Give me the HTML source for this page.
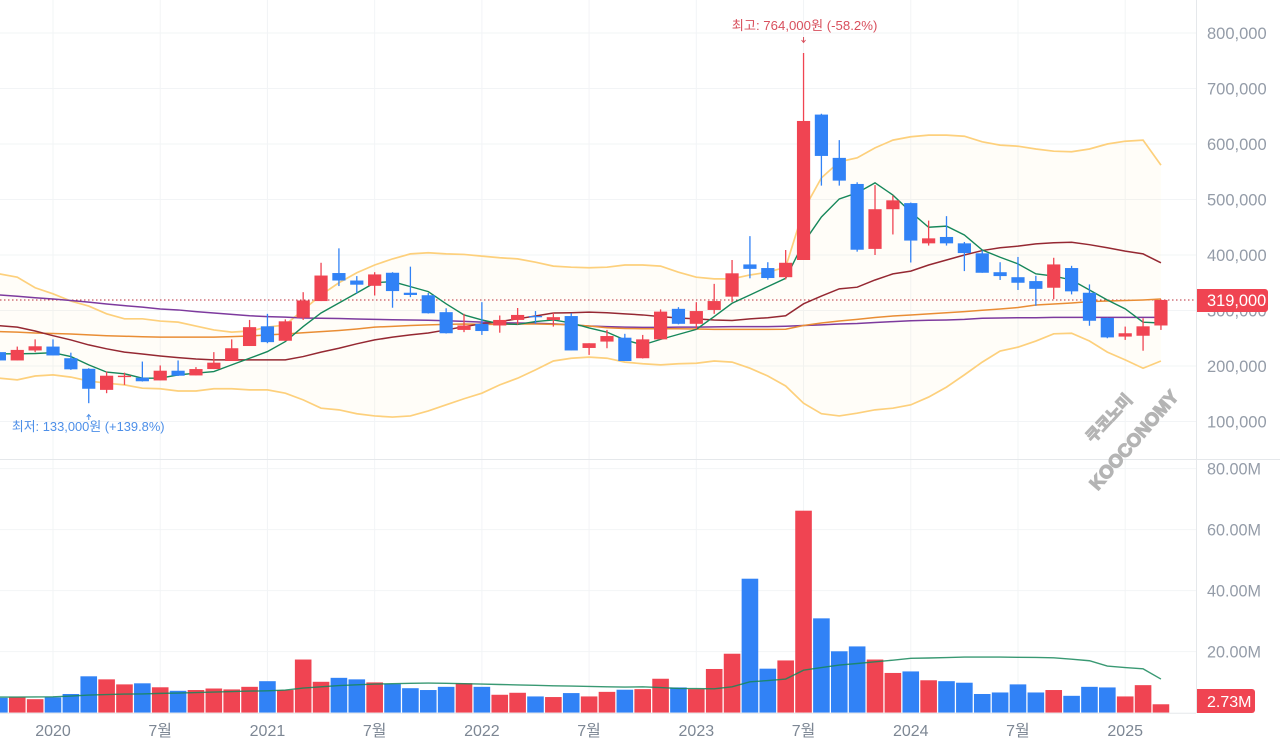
<!DOCTYPE html>
<html lang="ko">
<head>
<meta charset="utf-8">
<title>월봉 주가 차트</title>
<style>
html,body{margin:0;padding:0;background:#fff;width:1280px;height:742px;overflow:hidden}
svg{display:block;position:absolute;left:0;top:0}
text{font-family:"Liberation Sans","Noto Sans CJK KR",sans-serif}
</style>
</head>
<body>
<svg id="chart" width="1280" height="742" viewBox="0 0 1280 742" xmlns="http://www.w3.org/2000/svg"></svg>
<script>
/* Monthly categories, Oct 2019 to Mar 2025 */
const categories = ["2019-10","2019-11","2019-12","2020-01","2020-02","2020-03","2020-04","2020-05","2020-06","2020-07","2020-08","2020-09","2020-10","2020-11","2020-12","2021-01","2021-02","2021-03","2021-04","2021-05","2021-06","2021-07","2021-08","2021-09","2021-10","2021-11","2021-12","2022-01","2022-02","2022-03","2022-04","2022-05","2022-06","2022-07","2022-08","2022-09","2022-10","2022-11","2022-12","2023-01","2023-02","2023-03","2023-04","2023-05","2023-06","2023-07","2023-08","2023-09","2023-10","2023-11","2023-12","2024-01","2024-02","2024-03","2024-04","2024-05","2024-06","2024-07","2024-08","2024-09","2024-10","2024-11","2024-12","2025-01","2025-02","2025-03"];
/* Prices in thousand won */
const opens = [225,210,228,235,214,195,157,180,179,174,191.5,183,194.5,209,236,271.5,245.5,287,317,367.5,354,344.5,368,332,327.5,297,265,276,273,283,290,283,290,232.5,244,251,214,248,303,276,301,325,383,376.5,360,391,653,575,528,411,482.5,493.5,421,432.5,421,403,369,360,353,341,376.5,332,286.5,253,254.5,273];
const highs = [226,235,248,248,224,196,190,188,208,201,210,198,225,248,283,294,284,333,386,412,362,369,369,379,331.5,304,294,315,291,304.5,299,296,295,241,265,258,256,302,306,315,348,391,434,387,409,764,654.5,607,531,526,507,494.5,462,470,423.5,408,387,396.5,362.5,395,380.5,347,287,271,286,320];
const lows = [209,210,225,219,193,133,151,166,172,174,182,183,194.5,209,236,241,245,283,317,344,331,327,305,324,294.5,258.5,261,256,260,274.5,276,271,228,220,232,209,213.5,248,275,266,294,315,358,355.5,356,391,525,525,406,400,437,386.5,417,417,371,368,355,337,308.5,320.5,329,272.5,250,247,227.5,265];
const closes = [210,229,235.5,219,194,159,182.5,182.5,172.5,191.5,182.5,194.5,206,232,270,243,280.5,318,363,354,346.5,365,335,328,295,259,273,263,283,292,288,288,228,241,254,209,248,298,276,299,317,367,375,358.5,386,641.5,578.5,534,409.5,482.5,498.5,426,430,421,403.5,368,362,350,339,383,334.5,281.5,251.5,259,271.5,319];
/* Indicator series in thousand won */
const bollingerUpper = [366,360,341,330,317,308,294,285,285,281,279,272,265,261,263,270,274,301,328,350,368,382,393,402,404,402,401,398,395,393,387,380,378,377,378,382,382,380,369,360,357,357,364,369,378,481,539,568,575,593,607,613,616,616,614,604,598,596,591,587,586,591,600,605,607,562];
const bollingerLower = [178,175,182,184,180,173,169,166,160,159,155,155,159,159,157,157,151,139,124,121,114,110,108,110,119,130,141,151,166,178,193,209,214,216,214,207,204,202,204,205,209,207,196,182,164,133,114,110,115,121,124,130,144,162,184,207,227,234,245,258,259,245,225,211,196,209];
const ma5 = [222,222,222.5,224,217,202,189,186,178,178,184,187,190,202,214,226,244,271,295.5,313.5,331.5,350,352,343,334,312,292,283,276,275,280,283,277.5,268.5,261,247,238,248,257,266,289,313,328,343,358,422,468.5,501,512,530,508,477.5,450,452,436,409,396,384,366,362,355,337,319,303,279,277.5];
const ma20 = [272.6,270,263,254.6,247,238,231,225,221.6,218,215,212.6,211,211,211,211,211,217,225,232,240,247,252,256,259.5,265,271,276,280,285,290,295.5,296,297,296,294,292,289,286.5,285,283,282,285,287,290.6,312,326,339,342,355,366,371,382,391,400,408,413,416,420,422,423,418.6,413,407,402,386];
const ma60 = [262,261,259.5,258.6,257.7,256,254.6,253.7,252.6,252,252,252,252,253,254,256,257.7,260,262,264,266.7,270,271.5,273,274,275,275.7,275,275,275.7,275.7,275,274.4,272,269,267.6,267,267,267,266.7,266,266,266,266,266.3,273,277.5,281,284,287.4,290,292,294,296,298,300.5,302.7,305.4,310,311.7,313.5,316,317,318,319,320.7];
const ma120 = [328,325.6,323,320.7,318,315,311.7,308.7,306,302.7,301,298,295.5,293,290.6,289,288,286.5,286,285.6,284.7,284,283.4,283,282.5,281.6,280.5,279,278,277.5,277,276,274,272,271,270,269.7,269.7,270,270,270.6,271,271,271,271.7,273,274,275.7,276.6,278.4,280,281.6,282.5,283,284,286,286.5,287,287,287.6,287.7,287.7,287.7,287.7,287.7,287.7];
/* Volume in millions of shares */
const volumes = [4.85,5.0,4.4,5.0,6.1,11.9,10.9,9.25,9.6,8.3,7.15,7.4,7.9,7.6,8.45,10.3,7.4,17.4,10.1,11.4,10.9,9.9,9.35,8.0,7.4,8.45,9.6,8.45,5.85,6.5,5.3,5.1,6.4,5.3,6.8,7.5,7.7,11.1,8.25,7.7,14.3,19.3,43.9,14.4,17.1,66.2,30.9,20.1,21.7,17.4,13,13.5,10.6,10.3,9.8,6.1,6.6,9.25,6.6,7.4,5.5,8.45,8.25,5.3,9.0,2.73];
const volumeMa = [5.08,5.08,5.15,5.18,5.41,5.74,5.9,6.07,6.13,6.3,6.39,6.56,6.72,6.89,7.05,7.15,7.38,8.03,8.46,8.85,9.11,9.34,9.48,9.61,9.67,9.61,9.48,9.34,9.21,9.08,8.95,8.79,8.69,8.59,8.46,8.36,8.46,8.2,7.93,7.87,7.8,8.46,10.1,10.5,11,13.9,14.75,15.6,16.1,16.65,17.2,17.8,17.9,18.05,18.2,18.2,18.2,18.13,18.1,17.97,17.5,17,15.25,14.75,14.36,11];
/* Axis ticks */
const priceTicks = [100,200,300,400,500,600,700,800];
const priceTickLabels = ["100,000","200,000","300,000","400,000","500,000","600,000","700,000","800,000"];
const volumeTicks = [20,40,60,80];
const volumeTickLabels = ["20.00M","40.00M","60.00M","80.00M"];
const timeTicks = ["2020-01","2020-07","2021-01","2021-07","2022-01","2022-07","2023-01","2023-07","2024-01","2024-07","2025-01"];
const timeTickLabels = ["2020","7월","2021","7월","2022","7월","2023","7월","2024","7월","2025"];

/* Axis functions */
function xOf(i){return -0.61 + i*17.87;}
function yPrice(k){return 366 - (k-200)*0.555;}
function yVol(m){return 712.6 - m*3.05;}

const svg = document.getElementById('chart');
const NS = 'http://www.w3.org/2000/svg';
function mk(tag, attrs, parent){
  const el = document.createElementNS(NS, tag);
  for(const k in attrs) el.setAttribute(k, attrs[k]);
  (parent||svg).appendChild(el);
  return el;
}
function pts(arr, yf){return arr.map((v,i)=>xOf(i).toFixed(2)+','+yf(v).toFixed(2)).join(' ');}
const RED='#f04452', BLUE='#3182f6', GRID='#f2f4f6', AXIS='#e5e8eb', TXT='#949ca8';

/* Horizontal and vertical grid */
priceTicks.forEach(t=>{
  const el = mk('line',{x1:0,x2:1196,y1:yPrice(t),y2:yPrice(t),stroke:GRID,'stroke-width':1});
  
  
});
volumeTicks.forEach(t=>{
  const el = mk('line',{x1:0,x2:1196,y1:yVol(t),y2:yVol(t),stroke:GRID,'stroke-width':1});
  
  
});
timeTicks.forEach(t=>{
  const x = xOf(categories.indexOf(t));
  const el = mk('line',{x1:x,x2:x,y1:0,y2:713,stroke:GRID,'stroke-width':1});
  
  
});

/* Bollinger band fill */
const bandPts = pts(bollingerUpper,yPrice)+' '+bollingerLower.map((v,i)=>xOf(i).toFixed(2)+','+yPrice(v).toFixed(2)).reverse().join(' ');
const band = mk('polygon',{points:bandPts,fill:'#fbc23c','fill-opacity':0.035,stroke:'none'});



/* Current price dotted line (behind the marks) */
const lastIdx = categories.length-1;
const dotted = mk('line',{x1:0,x2:1196,y1:yPrice(closes[lastIdx]),y2:yPrice(closes[lastIdx]),stroke:'#b92c38','stroke-width':1,'stroke-dasharray':'1.5 2.5'});



/* Indicator lines */
const upperLine = mk('polyline',{points:pts(bollingerUpper,yPrice),fill:'none',stroke:'#fdd07c','stroke-width':1.7});


const lowerLine = mk('polyline',{points:pts(bollingerLower,yPrice),fill:'none',stroke:'#fdd07c','stroke-width':1.7});


const ma120Line = mk('polyline',{points:pts(ma120,yPrice),fill:'none',stroke:'#7d3a9e','stroke-width':1.5});


const ma60Line = mk('polyline',{points:pts(ma60,yPrice),fill:'none',stroke:'#e98d35','stroke-width':1.5});


const ma20Line = mk('polyline',{points:pts(ma20,yPrice),fill:'none',stroke:'#952832','stroke-width':1.5});


const ma5Line = mk('polyline',{points:pts(ma5,yPrice),fill:'none',stroke:'#16875a','stroke-width':1.4});



/* Candles */
categories.forEach((c,i)=>{
  const up = closes[i]>=opens[i];
  const col = up?RED:BLUE;
  const x = xOf(i);
  const wick = mk('line',{x1:x,x2:x,y1:yPrice(highs[i]),y2:yPrice(lows[i]),stroke:col,'stroke-width':1.3});
  
  
  const top = yPrice(Math.max(opens[i],closes[i]));
  const bot = yPrice(Math.min(opens[i],closes[i]));
  const body = mk('rect',{x:x-6.6,y:top,width:13.2,height:Math.max(1.2,bot-top),fill:col});
  
  
});

/* Volume bars */
categories.forEach((c,i)=>{
  const up = closes[i]>=opens[i];
  const bar = mk('rect',{x:xOf(i)-8.3,y:yVol(volumes[i]),width:16.6,height:yVol(0)-yVol(volumes[i]),fill:up?RED:BLUE});
  
  
});
const volLine = mk('polyline',{points:pts(volumeMa,yVol),fill:'none',stroke:'#16875a','stroke-width':1.4,'stroke-opacity':0.85});



/* Pane frame */
const baseLine = mk('line',{x1:0,x2:1196,y1:713.2,y2:713.2,stroke:AXIS,'stroke-width':1});


const sep = mk('line',{x1:0,x2:1280,y1:459.5,y2:459.5,stroke:AXIS,'stroke-width':1});


const yAxis = mk('line',{x1:1196.5,x2:1196.5,y1:0,y2:713,stroke:AXIS,'stroke-width':1});



/* Axis labels */
priceTicks.forEach((t,i)=>{
  const el = mk('text',{x:1207,y:yPrice(t)+5.8,'font-size':16.5,fill:TXT});
  el.textContent = priceTickLabels[i];
  
  
});
volumeTicks.forEach((t,i)=>{
  const el = mk('text',{x:1207,y:yVol(t)+5.8,'font-size':16.2,fill:TXT});
  el.textContent = volumeTickLabels[i];
  
  
});
timeTicks.forEach((t,i)=>{
  const el = mk('text',{x:xOf(categories.indexOf(t)),y:736,'font-size':16,fill:'#7d8794','text-anchor':'middle'});
  el.textContent = timeTickLabels[i];
  
  
});

/* Current value tags */
const priceTag = mk('path',{d:'M1197 '+(yPrice(closes[lastIdx])-11)+'h68a3 3 0 0 1 3 3v17a3 3 0 0 1-3 3h-68z',fill:RED});


const priceTagText = mk('text',{x:1207,y:yPrice(closes[lastIdx])+6,'font-size':16.4,fill:'#fff'});
priceTagText.textContent = (closes[lastIdx]*1000).toLocaleString('en-US');


const volTag = mk('path',{d:'M1197 689h55a3 3 0 0 1 3 3v18a3 3 0 0 1-3 3h-55z',fill:RED});


const volTagText = mk('text',{x:1207,y:707,'font-size':16,fill:'#fff'});
volTagText.textContent = volumes[lastIdx].toFixed(2)+'M';



/* High / low annotations */
const hiIdx = highs.indexOf(Math.max(...highs));
const loIdx = lows.indexOf(Math.min(...lows));
const hiX = xOf(hiIdx), loX = xOf(loIdx);
const hiText = mk('text',{x:hiX+1,y:30,'font-size':13.2,fill:'#d8505d','text-anchor':'middle'});
hiText.textContent = '최고: 764,000원 (-58.2%)';


const hiArrow = mk('path',{d:'M'+hiX+' 37v5M'+(hiX-2)+' 40l2 2.5l2-2.5',fill:'none',stroke:'#d8505d','stroke-width':1});


const loText = mk('text',{x:loX-0.5,y:431,'font-size':12.9,fill:'#4d8fe8','text-anchor':'middle'});
loText.textContent = '최저: 133,000원 (+139.8%)';


const loArrow = mk('path',{d:'M'+loX+' 420v-5M'+(loX-2)+' 417l2-2.5l2 2.5',fill:'none',stroke:'#4d8fe8','stroke-width':1});



/* Watermark */
const wm1 = mk('text',{transform:'translate(1110 419) rotate(-47)','font-size':16,'font-weight':700,fill:'#b4b4b4',stroke:'#b4b4b4','stroke-width':1.2,'text-anchor':'middle','dominant-baseline':'middle'});
wm1.textContent = '쿠코노미';


const wm2 = mk('text',{transform:'translate(1135 441) rotate(-49)','font-size':18.4,'font-weight':700,fill:'#b4b4b4',stroke:'#b4b4b4','stroke-width':1.2,'text-anchor':'middle','dominant-baseline':'middle'});
wm2.textContent = 'KOOCONOMY';


</script>
</body>
</html>
